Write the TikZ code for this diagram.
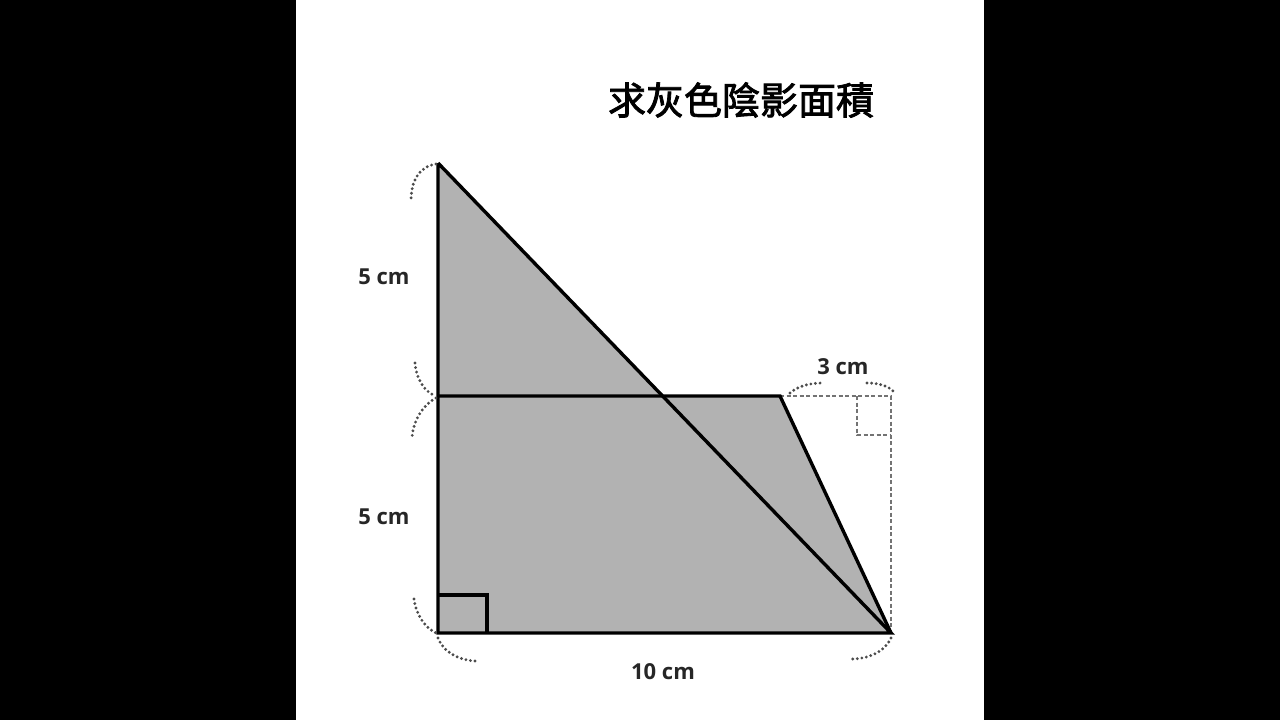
\documentclass[tikz,border=0pt]{standalone}
\usepackage{fontspec}
\setmainfont{Open Sans}
\newfontfamily\cjk[FakeBold=2.2]{Noto Sans CJK TC}
\begin{document}
\begin{tikzpicture}[x=1pt,y=-1pt,
  solidline/.style={line width=3.4pt,black,line join=miter},
  dotarc/.style={line width=3.2pt,black!70,dash pattern=on 0pt off 4.6pt,line cap=round},
  dashline/.style={line width=1.8pt,black!55,dash pattern=on 4pt off 2.5pt},
  lab/.style={font=\bfseries\fontsize{22}{26}\selectfont,text=black!85,inner sep=0pt}]
\fill[black] (0,0) rectangle (1280,720);
\fill[white] (296,0) rectangle (984,720);
\useasboundingbox (0,0) rectangle (1280,720);
\coordinate (A) at (438,163);
\coordinate (B) at (438,396);
\coordinate (C) at (438,633);
\coordinate (D) at (891,633);
\coordinate (E) at (780,396);
\coordinate (F) at (891,396);
% fill
\fill[gray!60] (A) -- (C) -- (D) -- cycle;
\fill[gray!60] (B) -- (E) -- (D) -- (C) -- cycle;
% dashed helper lines
\draw[dashline] (E) -- (F) -- (D);
\draw[dashline] (857,396) -- (857,435) -- (F |- 0,435);
% right angle
\draw[solidline] (438,595) -- (487,595) -- (487,633);
% solid lines
\draw[solidline] (A) -- (C) -- (D) -- (A);
\draw[solidline] (B) -- (E) -- (D);
% dotted arcs
\draw[dotarc] (436,164) .. controls (418,167) and (411,182) .. (411,201);
\draw[dotarc] (415,363) .. controls (416,378) and (424,392) .. (436,396);
\draw[dotarc] (436,398) .. controls (424,404) and (413,420) .. (412,438);
\draw[dotarc] (414,599) .. controls (416,614) and (424,627) .. (436,633);
\draw[dotarc] (438,638) .. controls (443,652) and (460,661) .. (477,661);
\draw[dotarc] (891,638) .. controls (885,652) and (868,659) .. (851,659);
\draw[dotarc] (790,393) .. controls (798,386) and (810,383) .. (823,383);
\draw[dotarc] (867,383) .. controls (879,383) and (888,386) .. (893,391);
% labels
\node[font=\cjk\fontsize{38}{44}\selectfont,inner sep=0pt] (title) at (741,100) {求灰色陰影面積};
\node[lab] (l1) at (384,277) {5 cm};
\node[lab] (l2) at (384,517) {5 cm};
\node[lab] (l3) at (663,672) {10 cm};
\node[lab] (l4) at (843,367) {3 cm};
\end{tikzpicture}
\end{document}
